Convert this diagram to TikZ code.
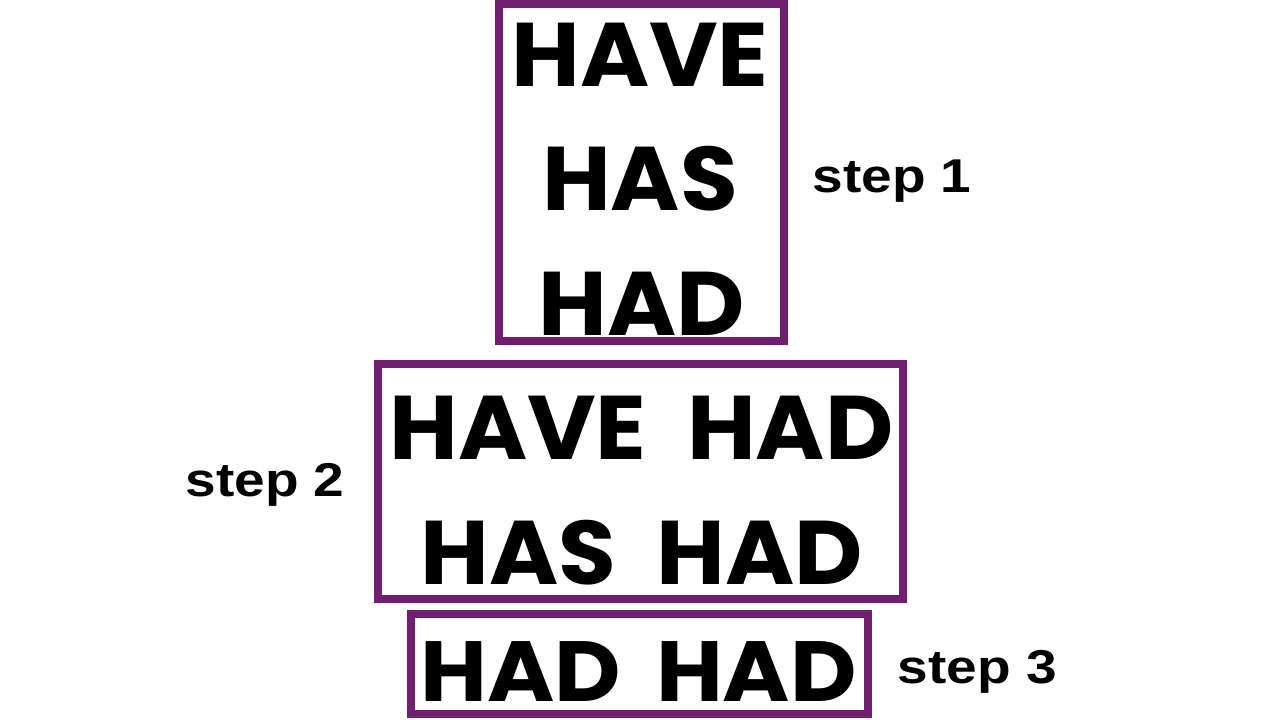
\documentclass[tikz,border=0pt]{standalone}
\usepackage{fontspec}
\newfontfamily\wordfont{Poppins}
\newfontfamily\stepfont{Liberation Sans}
\definecolor{boxpurple}{RGB}{113,30,112}
\newcommand\widen[2][1.04]{\scalebox{#1}[1]{#2}}
\begin{document}
\begin{tikzpicture}[
  word/.style={anchor=base,inner sep=0pt,font=\wordfont\bfseries\fontsize{25.7}{25.7}\selectfont},
  smallword/.style={word,font=\wordfont\bfseries\fontsize{24.3}{24.3}\selectfont},
  steplabel/.style={anchor=base,inner sep=0pt,font=\stepfont\bfseries\fontsize{13.5}{13.5}\selectfont},
  frame/.style={draw=boxpurple,line width=0.08cm}]
\useasboundingbox (0,0) rectangle (12.8,7.2);
\draw[frame](4.99,7.16) rectangle (7.84,3.79);
\draw[frame](3.78,3.56) rectangle (9.03,1.21);
\draw[frame](4.11,1.06) rectangle (8.68,0.06);
\node[word] (have) at (6.40,6.33) {\widen{HAVE}};
\node[word] (has) at (6.40,5.09) {\widen{HAS}};
\node[word] (had) at (6.415,3.84) {\widen{HAD}};
\node[word] (havehad) at (6.415,2.60) {\widen{HAVE\hspace{0.39cm}HAD}};
\node[word] (hashad) at (6.42,1.35) {\widen{HAS\hspace{0.39cm}HAD}};
\node[smallword] (hadhad) at (6.385,0.18) {\widen[1.07]{HAD\hspace{0.33cm}HAD}};
\node[steplabel] (step1) at (8.92,5.27) {\widen[1.16]{step 1}};
\node[steplabel] (step2) at (2.65,2.23) {\widen[1.16]{step 2}};
\node[steplabel] (step3) at (9.775,0.36) {\widen[1.16]{step 3}};
\end{tikzpicture}
\end{document}
